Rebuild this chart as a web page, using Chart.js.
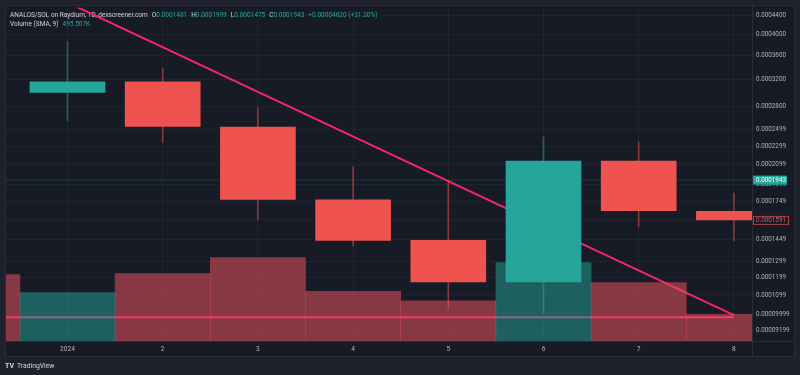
<!DOCTYPE html>
<html><head><meta charset="utf-8">
<script src="https://cdn.jsdelivr.net/npm/chart.js@4.4.1/dist/chart.umd.min.js"></script>
<style>html,body{margin:0;padding:0;background:#1f222c;overflow:hidden}#wrap{width:800px;height:375px;position:relative}</style>
</head><body><div id="wrap"><canvas id="c" width="800" height="375"></canvas></div>
<script>
// ---- data ----
const days   = ["Dec 31", "2024", "2", "3", "4", "5", "6", "7", "8"];
const openP  = [null, 0.0002997, 0.0003170, 0.0002532, 0.0001764, 0.0001443, 0.0001171, 0.0002138, 0.0001666];
const highP  = [null, 0.0003866, 0.0003385, 0.0002780, 0.0002079, 0.0001941, 0.0002410, 0.0002351, 0.0001821];
const lowP   = [null, 0.0002608, 0.0002340, 0.0001594, 0.0001401, 0.0001029, 0.0001004, 0.0001543, 0.0001438];
const closeP = [null, 0.0003170, 0.0002532, 0.0001762, 0.0001438, 0.0001171, 0.0002138, 0.0001666, 0.0001592];
const volumeK = [571, 417, 579, 716, 426, 345, 673, 503, 230];
const volumeDown = [true, false, true, true, true, true, false, true, true];
const priceTickLabels = ["0.0004400","0.0004000","0.0003600","0.0003200","0.0002800","0.0002499","0.0002299","0.0002099","0.0001899","0.0001749","0.0001599","0.0001449","0.0001299","0.0001199","0.0001099","0.00009999","0.00009199"];
const trendX = [1, 8];
const trendY = [0.000469, 0.0000994];
const levelX = [0, 8];
const levelY = [0.0000984, 0.0000984];
const lastPrice = 0.0001943;
const lastPriceLabel = "0.0001943";
const lastClose = 0.0001591;
const lastCloseLabel = "0.0001591";
const headerTitle = "ANALOS/SOL on Raydium, 1D, dexscreener.com";
const headerOHLC = [["O","0.0001481"],["H","0.0001999"],["L","0.0001475"],["C","0.0001943"]];
const headerChange = "+0.00004620 (+31.20%)";
const volumeTitle = "Volume (SMA, 9)";
const volumeSMA = "495.507K";

// ---- styling ----
const UP = '#26a69a', DOWN = '#ef5350';
const FONT = 'Roboto, "Liberation Sans", sans-serif';
const TXT = '#b2b5be';
const priceTickValues = priceTickLabels.map(parseFloat);

const idx = days.map((d,i)=>i);
const bodyData = idx.filter(i=>openP[i]!=null).map(i=>({x:i, y:[openP[i], closeP[i]]}));
const bodyColors = idx.filter(i=>openP[i]!=null).map(i=> closeP[i]>=openP[i] ? UP : DOWN);
const wickData = idx.filter(i=>openP[i]!=null).map(i=>({x:i, y:[lowP[i], highP[i]]}));
const wickColors = idx.filter(i=>openP[i]!=null).map(i=> closeP[i]>=openP[i] ? 'rgba(38,166,154,0.5)' : 'rgba(239,83,80,0.5)');
const volData = idx.map(i=>({x:i, y:volumeK[i]}));
const volColors = idx.map(i=> volumeDown[i] ? 'rgba(239,83,96,0.52)' : 'rgba(38,166,154,0.5)');

const framePlugin = {
  id:'frame',
  beforeDraw(chart){
    const ctx = chart.ctx;
    ctx.save();
    ctx.fillStyle = '#1f222c';
    ctx.fillRect(0,0,chart.width,chart.height);
    ctx.fillStyle = '#171b26';
    ctx.fillRect(5,5,789,351);
    ctx.restore();
  },
  beforeDatasetsDraw(chart){
    const ctx = chart.ctx;
    ctx.save();
    ctx.font = '6.5px ' + FONT;
    ctx.textBaseline = 'middle';
    let x = 10;
    const seg = (t,c,gap)=>{ ctx.fillStyle=c; ctx.fillText(t,x,15); x += ctx.measureText(t).width + (gap||0); };
    seg(headerTitle,'#d1d4dc',4);
    headerOHLC.forEach(([k,v])=>{ seg(k,'#d1d4dc',0); seg(v,UP,4); });
    seg(headerChange,UP,0);
    x = 10;
    ctx.fillStyle='#d1d4dc'; ctx.fillText(volumeTitle,x,24.5);
    x += ctx.measureText(volumeTitle).width + 4;
    ctx.fillStyle=UP; ctx.fillText(volumeSMA,x,24.5);
    ctx.restore();
  },
  afterDraw(chart){
    const ctx = chart.ctx;
    const a = chart.chartArea;
    const ys = chart.scales.y;
    ctx.save();
    ctx.strokeStyle = '#2a2e39';
    ctx.lineWidth = 1;
    ctx.strokeRect(5.5,5.5,789,351);
    ctx.beginPath();
    ctx.moveTo(a.right+0.5,5); ctx.lineTo(a.right+0.5,356);
    ctx.moveTo(5,a.bottom+0.5); ctx.lineTo(794,a.bottom+0.5);
    ctx.stroke();
    ctx.font = '6.3px ' + FONT;
    ctx.textBaseline = 'middle';
    let py = ys.getPixelForValue(lastPrice);
    ctx.fillStyle = UP;
    ctx.fillRect(a.right+1, py-4.5, 34, 9);
    ctx.fillStyle = '#ffffff';
    ctx.fillText(lastPriceLabel, a.right+4, py);
    py = ys.getPixelForValue(lastClose);
    ctx.fillStyle = '#171b26';
    ctx.fillRect(a.right+1, py-4.5, 36, 9);
    ctx.strokeStyle = 'rgba(239,83,80,0.7)';
    ctx.strokeRect(a.right+1.5, py-4, 35, 8);
    ctx.fillStyle = DOWN;
    ctx.fillText(lastCloseLabel, a.right+4, py);
    ctx.font = 'bold 7px ' + FONT;
    ctx.fillStyle = '#d1d4dc';
    ctx.fillText('TV', 5, 366);
    ctx.font = '6.8px ' + FONT;
    ctx.fillText('TradingView', 17, 366);
    ctx.restore();
  }
};

new Chart(document.getElementById('c'), {
  type:'bar',
  data:{ datasets:[
    { type:'line', data: trendX.map((x,i)=>({x, y:trendY[i]})), borderColor:'#f5246b', borderWidth:2, pointRadius:0, order:5, clip:0 },
    { type:'line', data: levelX.map((x,i)=>({x, y:levelY[i]})), borderColor:'#f5246b', borderWidth:2, pointRadius:0, order:5, clip:0 },
    { type:'line', data: [{x:0,y:lastPrice},{x:9,y:lastPrice}], borderColor:'rgba(38,166,154,0.45)', borderWidth:1, borderDash:[1,1], pointRadius:0, order:6, clip:0 },
    { data: volData, yAxisID:'yv', backgroundColor: volColors, borderWidth:0, grouped:false, barPercentage:1, categoryPercentage:1, order:4, clip:0 },
    { data: wickData, backgroundColor: wickColors, borderWidth:0, grouped:false, barThickness:1, order:2, clip:0 },
    { data: bodyData, backgroundColor: bodyColors, borderWidth:0, grouped:false, barPercentage:0.795, categoryPercentage:1, order:1, clip:0 }
  ]},
  options:{
    responsive:false, animation:false, events:[],
    layout:{ padding:{ left:6, top:5, right:0, bottom:0 } },
    plugins:{ legend:{display:false}, tooltip:{enabled:false} },
    scales:{
      x:{ type:'linear', position:'bottom', min:0.354, max:8.19, bounds:'data', offset:false,
          afterBuildTicks(s){ s.ticks = idx.filter(i=>i>=1).map(i=>({value:i})); },
          afterFit(s){ s.height = 34; },
          ticks:{ callback:(v)=>days[v], color:TXT, font:{family:FONT, size:6.6}, padding:4, maxRotation:0, autoSkip:false },
          grid:{ color:'rgba(255,255,255,0.04)', drawTicks:false, offset:false }, border:{display:false} },
      y:{ type:'logarithmic', position:'right', min:0.00008744, max:0.000457, bounds:'data',
          afterBuildTicks(s){ s.ticks = priceTickValues.map(v=>({value:v})); },
          afterFit(s){ s.width = 48; },
          ticks:{ callback:(v,i)=>priceTickLabels[i], color:TXT, font:{family:FONT, size:6.3}, padding:4, autoSkip:false },
          grid:{ color:'rgba(255,255,255,0.04)', drawTicks:false }, border:{display:false} },
      yv:{ type:'linear', display:false, min:0, max:2863 }
    }
  },
  plugins:[framePlugin]
});
</script></body></html>
